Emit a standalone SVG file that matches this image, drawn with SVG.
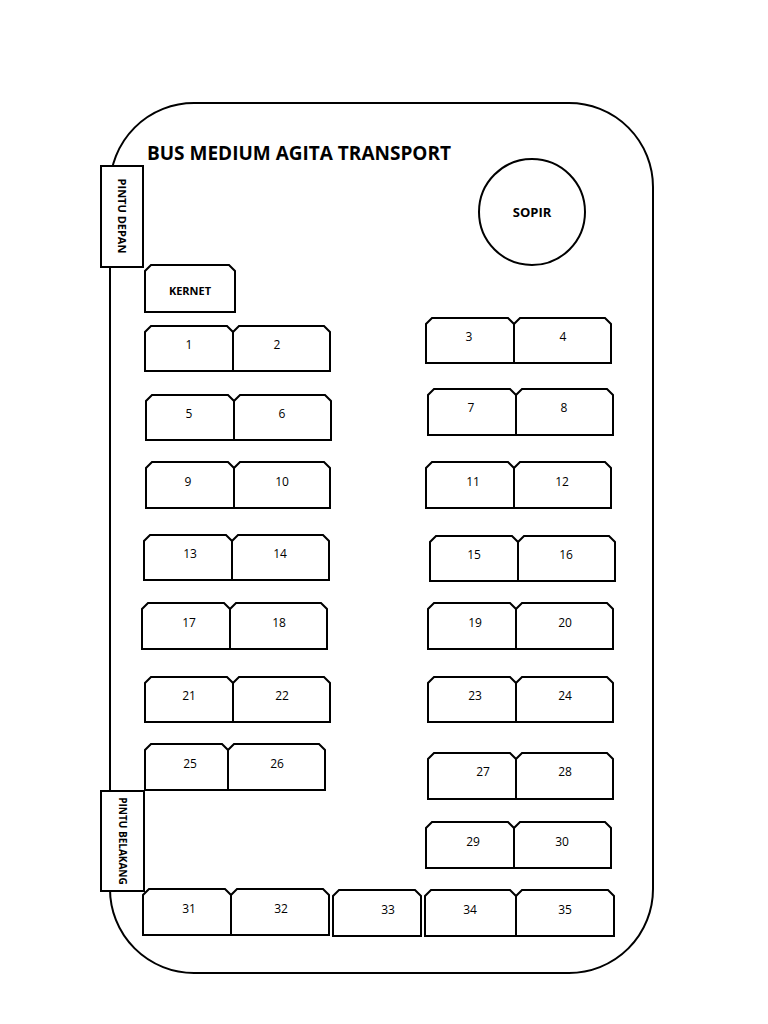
<svg xmlns="http://www.w3.org/2000/svg" width="768" height="1024" viewBox="0 0 768 1024">
<style>
.o{fill:#fff;stroke:#000;stroke-width:2}
.s{fill:#fff;stroke:#000;stroke-width:2;stroke-linejoin:miter}
text{font-family:"Open Sans","Liberation Sans",sans-serif;font-size:12px;fill:#000;text-anchor:middle}
.b{font-weight:bold}
</style>
<rect width="768" height="1024" fill="#fff"/>
<g id="bus"><rect class="o" x="110" y="103" width="543" height="870" rx="84" ry="84"/></g>
<text class="b" x="299" y="160" style="font-size:19px">BUS MEDIUM AGITA TRANSPORT</text>
<g id="pintu-depan"><rect class="o" x="101" y="166" width="42" height="101"/><text class="b" transform="translate(118,216) rotate(90)" style="font-size:11px">PINTU DEPAN</text></g>
<g id="pintu-belakang"><rect class="o" x="101" y="791" width="43" height="100"/><text class="b" transform="translate(119,841) rotate(90)" style="font-size:10px">PINTU BELAKANG</text></g>
<g id="sopir"><circle class="o" cx="532" cy="212" r="53"/><text class="b" x="532" y="217" style="font-size:13px">SOPIR</text></g>
<g id="kernet"><path class="s" d="M145,312V271L151,265H229L235,271V312Z"/><text class="b" x="190" y="295" style="font-size:11px">KERNET</text></g>
<g id="s1"><path class="s" d="M145,371V332L151,326H227L233,332V371Z"/><text x="189" y="349">1</text></g>
<g id="s2"><path class="s" d="M233,371V332L239,326H324L330,332V371Z"/><text x="277" y="349">2</text></g>
<g id="s3"><path class="s" d="M426,363V324L432,318H508L514,324V363Z"/><text x="469" y="341">3</text></g>
<g id="s4"><path class="s" d="M514,363V324L520,318H605L611,324V363Z"/><text x="563" y="341">4</text></g>
<g id="s5"><path class="s" d="M146,440V401L152,395H228L234,401V440Z"/><text x="189" y="418">5</text></g>
<g id="s6"><path class="s" d="M234,440V401L240,395H325L331,401V440Z"/><text x="282" y="418">6</text></g>
<g id="s7"><path class="s" d="M428,435V395L434,389H510L516,395V435Z"/><text x="471" y="412">7</text></g>
<g id="s8"><path class="s" d="M516,435V395L522,389H607L613,395V435Z"/><text x="564" y="412">8</text></g>
<g id="s9"><path class="s" d="M146,508V468L152,462H228L234,468V508Z"/><text x="188" y="486">9</text></g>
<g id="s10"><path class="s" d="M234,508V468L240,462H324L330,468V508Z"/><text x="282" y="486">10</text></g>
<g id="s11"><path class="s" d="M426,508V468L432,462H508L514,468V508Z"/><text x="473" y="486">11</text></g>
<g id="s12"><path class="s" d="M514,508V468L520,462H605L611,468V508Z"/><text x="562" y="486">12</text></g>
<g id="s13"><path class="s" d="M144,580V541L150,535H226L232,541V580Z"/><text x="190" y="558">13</text></g>
<g id="s14"><path class="s" d="M232,580V541L238,535H323L329,541V580Z"/><text x="280" y="558">14</text></g>
<g id="s15"><path class="s" d="M430,581V542L436,536H512L518,542V581Z"/><text x="474" y="559">15</text></g>
<g id="s16"><path class="s" d="M518,581V542L524,536H609L615,542V581Z"/><text x="566" y="559">16</text></g>
<g id="s17"><path class="s" d="M142,649V609L148,603H224L230,609V649Z"/><text x="189" y="627">17</text></g>
<g id="s18"><path class="s" d="M230,649V609L236,603H321L327,609V649Z"/><text x="279" y="627">18</text></g>
<g id="s19"><path class="s" d="M428,649V609L434,603H510L516,609V649Z"/><text x="475" y="627">19</text></g>
<g id="s20"><path class="s" d="M516,649V609L522,603H607L613,609V649Z"/><text x="565" y="627">20</text></g>
<g id="s21"><path class="s" d="M145,722V683L151,677H227L233,683V722Z"/><text x="189" y="700">21</text></g>
<g id="s22"><path class="s" d="M233,722V683L239,677H324L330,683V722Z"/><text x="282" y="700">22</text></g>
<g id="s23"><path class="s" d="M428,722V683L434,677H510L516,683V722Z"/><text x="475" y="700">23</text></g>
<g id="s24"><path class="s" d="M516,722V683L522,677H607L613,683V722Z"/><text x="565" y="700">24</text></g>
<g id="s25"><path class="s" d="M145,790V750L151,744H222L228,750V790Z"/><text x="190" y="768">25</text></g>
<g id="s26"><path class="s" d="M228,790V750L234,744H319L325,750V790Z"/><text x="277" y="768">26</text></g>
<g id="s27"><path class="s" d="M428,799V759L434,753H510L516,759V799Z"/><text x="483" y="776">27</text></g>
<g id="s28"><path class="s" d="M516,799V759L522,753H607L613,759V799Z"/><text x="565" y="776">28</text></g>
<g id="s29"><path class="s" d="M426,868V828L432,822H508L514,828V868Z"/><text x="473" y="846">29</text></g>
<g id="s30"><path class="s" d="M514,868V828L520,822H605L611,828V868Z"/><text x="562" y="846">30</text></g>
<g id="s31"><path class="s" d="M143,935V895L149,889H225L231,895V935Z"/><text x="189" y="913">31</text></g>
<g id="s32"><path class="s" d="M231,935V895L237,889H323L329,895V935Z"/><text x="281" y="913">32</text></g>
<g id="s33"><path class="s" d="M333,936V896L339,890H415L421,896V936Z"/><text x="388" y="914">33</text></g>
<g id="s34"><path class="s" d="M425,936V896L431,890H510L516,896V936Z"/><text x="470" y="914">34</text></g>
<g id="s35"><path class="s" d="M516,936V896L522,890H608L614,896V936Z"/><text x="565" y="914">35</text></g>
<g id="connectors"></g>
</svg>
